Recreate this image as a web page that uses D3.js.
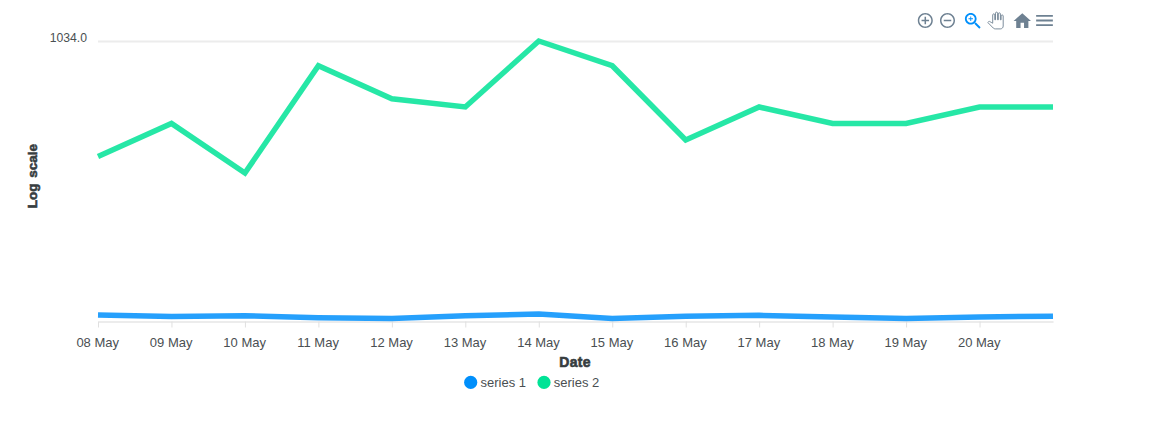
<!DOCTYPE html>
<html>
<head>
<meta charset="utf-8">
<script src="https://cdn.jsdelivr.net/npm/d3@7"></script>
<style>
  html, body { margin: 0; padding: 0; background: #fff; }
  text { font-family: "Liberation Sans", Arial, sans-serif; }
</style>
</head>
<body>
<div id="chart"></div>
<script>
const dates = ["08 May", "09 May", "10 May", "11 May", "12 May", "13 May", "14 May",
  "15 May", "16 May", "17 May", "18 May", "19 May", "20 May", "21 May"];
const series1 = [1000.8, 1000.6, 1000.7, 1000.45, 1000.35, 1000.7, 1000.9, 1000.35, 1000.65, 1000.75, 1000.55, 1000.35, 1000.55, 1000.65];
const series2 = [1020, 1024, 1018, 1031, 1027, 1026, 1034, 1031, 1022, 1026, 1024, 1024, 1026, 1026];
const seriesNames = ["series 1", "series 2"];
const colors = ["#008FFB", "#00E396"];
const yTicks = [1034];

const w = 1160, h = 438;
const plotLeft = 98, plotRight = 1053, plotTop = 41, plotBottom = 321.5;
const textColor = "#4a4f52";

const svg = d3.select("#chart").append("svg")
  .attr("width", w).attr("height", h)
  .style("display", "block");

const x = d3.scalePoint().domain(dates).range([plotLeft, plotRight]);
const y = d3.scaleLinear().domain([1000, 1034]).range([plotBottom, plotTop]);

// gridline + y label
const yAxis = svg.append("g").attr("transform", `translate(${plotLeft},0)`)
  .call(d3.axisLeft(y).tickValues(yTicks).tickSize(-(plotRight - plotLeft)).tickFormat(d3.format(".1f")));
yAxis.select(".domain").remove();
yAxis.selectAll("line").attr("stroke", "#ececec").attr("stroke-width", 2);
yAxis.selectAll("text")
  .attr("x", -11).attr("y", -3.5)
  .attr("font-size", 12.2).attr("fill", textColor)
  .style("font-family", '"Liberation Sans", Arial, sans-serif');

// x axis, last date has no tick or label
const xAxis = svg.append("g").attr("transform", `translate(0,${plotBottom})`)
  .call(d3.axisBottom(x).tickSize(6).tickSizeOuter(0).tickFormat(d => d));
xAxis.select(".domain").attr("stroke", "#ececec").attr("stroke-width", 2);
xAxis.selectAll(".tick").filter(d => d === dates[dates.length - 1]).remove();
xAxis.selectAll("line").attr("stroke", "#e0e0e0");
xAxis.selectAll("text")
  .attr("x", -0.8).attr("y", 16).attr("font-size", 13).attr("fill", textColor)
  .style("font-family", '"Liberation Sans", Arial, sans-serif');

const line = d3.line().x((d, i) => x(dates[i])).y(d => y(d));
[series1, series2].forEach((s, i) => {
  svg.append("path").datum(s)
    .attr("d", line)
    .attr("fill", "none")
    .attr("stroke", colors[i])
    .attr("stroke-opacity", 0.85)
    .attr("stroke-width", 5.5)
    .attr("stroke-linejoin", "miter");
});

// axis titles
svg.append("text").attr("x", 575).attr("y", 366.5).attr("text-anchor", "middle")
  .attr("font-size", 14).attr("font-weight", 900).attr("fill", "#373d3f")
  .attr("stroke", "#373d3f").attr("stroke-width", 0.6).attr("letter-spacing", 0.3).text("Date");
svg.append("text").attr("transform", "translate(37,176) rotate(-90)").attr("text-anchor", "middle")
  .attr("font-size", 13.5).attr("font-weight", 900).attr("fill", "#373d3f")
  .attr("stroke", "#373d3f").attr("stroke-width", 0.6).attr("word-spacing", 2).text("Log scale");

// legend
const legendX = [470.7, 544];
seriesNames.forEach((n, i) => {
  svg.append("circle").attr("cx", legendX[i]).attr("cy", 382.4).attr("r", 6.6).attr("fill", colors[i]);
  svg.append("text").attr("x", legendX[i] + 9.8).attr("y", 387).attr("font-size", 13)
    .attr("fill", textColor).text(n);
});

// toolbar icons
const icons = [
  { cx: 925.3, cy: 20.5, s: 0.75, fill: "#6e8192", d: "M13 7h-2v4H7v2h4v4h2v-4h4v-2h-4V7zm-1-5C6.48 2 2 6.48 2 12s4.48 10 10 10 10-4.48 10-10S17.52 2 12 2zm0 18c-4.41 0-8-3.59-8-8s3.59-8 8-8 8 3.59 8 8-3.59 8-8 8z" },
  { cx: 947.5, cy: 20.5, s: 0.75, fill: "#6e8192", d: "M7 11v2h10v-2H7zm5-9C6.48 2 2 6.48 2 12s4.48 10 10 10 10-4.48 10-10S17.52 2 12 2zm0 18c-4.41 0-8-3.59-8-8s3.59-8 8-8 8 3.59 8 8-3.59 8-8 8z" },
  { cx: 973, cy: 21, s: 0.9, fill: "#008FFB", d: "M15.5 14h-.79l-.28-.27C15.41 12.59 16 11.11 16 9.5 16 5.91 13.09 3 9.5 3S3 5.91 3 9.5 5.91 16 9.5 16c1.61 0 3.09-.59 4.23-1.57l.27.28v.79l5 4.99L20.49 19l-4.99-5zm-6 0C7.01 14 5 11.99 5 9.5S7.01 5 9.5 5 14 7.01 14 9.5 11.99 14 9.5 14zM12 10h-2v2H9v-2H7V9h2V7h1v2h2v1z" },
  { cx: 995.5, cy: 20.5, s: 0.7, fill: "#fff", stroke: "#6e8192", d: "M23 5.5V20c0 2.2-1.8 4-4 4h-7.3c-1.08 0-2.1-.43-2.85-1.19L1 14.83s1.26-1.23 1.3-1.25c.22-.19.49-.29.79-.29.22 0 .42.06.6.16.04.01 4.31 2.46 4.31 2.46V4c0-.83.67-1.5 1.5-1.5S11 3.17 11 4v7h1V1.5c0-.83.67-1.5 1.5-1.5S15 .67 15 1.5V11h1V2.5c0-.83.67-1.5 1.5-1.5s1.5.67 1.5 1.5V11h1V5.5c0-.83.67-1.5 1.5-1.5s1.5.67 1.5 1.5z" },
  { cx: 1022.3, cy: 21, s: 0.87, fill: "#6e8192", d: "M10 20v-6h4v6h5v-8h3L12 3 2 12h3v8z" },
  { cx: 1044.5, cy: 20.5, s: 0.93, fill: "#6e8192", d: "M3 18h18v-2H3v2zm0-5h18v-2H3v2zm0-7v2h18V6H3z" }
];
icons.forEach(ic => {
  svg.append("path")
    .attr("transform", `translate(${ic.cx - 12 * ic.s},${ic.cy - 12 * ic.s}) scale(${ic.s})`)
    .attr("d", ic.d)
    .attr("fill", ic.fill)
    .attr("stroke", ic.stroke || "none")
    .attr("stroke-width", ic.stroke ? 1.3 : 0);
});
</script>
</body>
</html>
